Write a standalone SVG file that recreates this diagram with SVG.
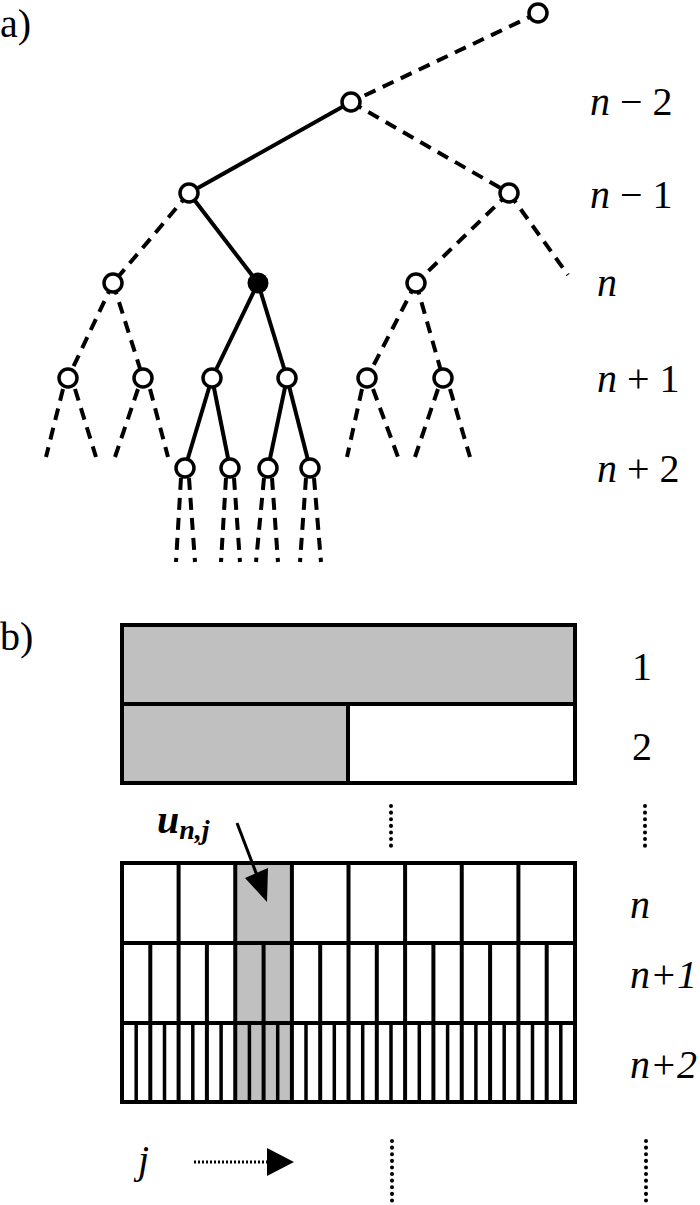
<svg xmlns="http://www.w3.org/2000/svg" width="700" height="1205" viewBox="0 0 700 1205">
<style>
.s{stroke:#000;stroke-width:4;fill:none}
.d{stroke:#000;stroke-width:4;fill:none;stroke-dasharray:12 8}
.nd{fill:#fff;stroke:#000;stroke-width:3.5}
text{font-family:"Liberation Serif","Times New Roman","DejaVu Serif",serif;font-size:40px}
.i{font-style:italic}
.g{stroke:#000;stroke-width:4}
.dot{stroke:#000;stroke-width:4;stroke-dasharray:0.1 6.5;stroke-linecap:round}
</style>
<rect width="700" height="1205" fill="#fff"/>
<text x="0" y="37" font-size="42">a)</text>
<text x="0" y="650" font-size="42">b)</text>
<g id="connectors">
<line class="d" x1="538" y1="13" x2="351" y2="102"/>
<line class="s" x1="351" y1="102" x2="189" y2="193"/>
<line class="d" x1="351" y1="102" x2="509" y2="193"/>
<line class="d" x1="189" y1="193" x2="113" y2="283"/>
<line class="s" x1="189" y1="193" x2="258" y2="283"/>
<line class="d" x1="509" y1="193" x2="416" y2="283"/>
<line class="d" x1="509" y1="193" x2="568" y2="275"/>
<line class="d" x1="113" y1="283" x2="68" y2="378"/>
<line class="d" x1="113" y1="283" x2="143" y2="378"/>
<line class="s" x1="258" y1="283" x2="212" y2="378"/>
<line class="s" x1="258" y1="283" x2="287" y2="378"/>
<line class="d" x1="416" y1="283" x2="367" y2="378"/>
<line class="d" x1="416" y1="283" x2="443" y2="378"/>
<line class="s" x1="212" y1="378" x2="185" y2="468"/>
<line class="s" x1="212" y1="378" x2="230" y2="468"/>
<line class="s" x1="287" y1="378" x2="268" y2="468"/>
<line class="s" x1="287" y1="378" x2="310" y2="468"/>
<line class="d" x1="63" y1="389" x2="46" y2="457"/>
<line class="d" x1="75" y1="389" x2="96" y2="457"/>
<line class="d" x1="138" y1="389" x2="115" y2="457"/>
<line class="d" x1="150" y1="389" x2="168" y2="457"/>
<line class="d" x1="362" y1="389" x2="347" y2="457"/>
<line class="d" x1="373" y1="389" x2="398" y2="457"/>
<line class="d" x1="438" y1="389" x2="415" y2="457"/>
<line class="d" x1="450" y1="389" x2="470" y2="457"/>
<line class="d" x1="181" y1="478" x2="176" y2="562"/>
<line class="d" x1="189" y1="478" x2="195" y2="562"/>
<line class="d" x1="226" y1="478" x2="221" y2="562"/>
<line class="d" x1="234" y1="478" x2="240" y2="562"/>
<line class="d" x1="264" y1="478" x2="256" y2="562"/>
<line class="d" x1="272" y1="478" x2="278" y2="562"/>
<line class="d" x1="306" y1="478" x2="300" y2="562"/>
<line class="d" x1="314" y1="478" x2="321" y2="562"/>
</g>
<g id="nodes">
<circle id="n0" class="nd" cx="538" cy="13" r="9"/>
<circle id="n1" class="nd" cx="351" cy="102" r="9"/>
<circle id="n2" class="nd" cx="189" cy="193" r="9"/>
<circle id="n3" class="nd" cx="509" cy="193" r="9"/>
<circle id="n4" class="nd" cx="113" cy="283" r="9"/>
<circle id="n5" cx="258" cy="283" r="10.5" fill="#000"/>
<circle id="n6" class="nd" cx="416" cy="283" r="9"/>
<circle id="n7" class="nd" cx="68" cy="378" r="9"/>
<circle id="n8" class="nd" cx="143" cy="378" r="9"/>
<circle id="n9" class="nd" cx="212" cy="378" r="9"/>
<circle id="n10" class="nd" cx="287" cy="378" r="9"/>
<circle id="n11" class="nd" cx="367" cy="378" r="9"/>
<circle id="n12" class="nd" cx="443" cy="378" r="9"/>
<circle id="n13" class="nd" cx="185" cy="468" r="9"/>
<circle id="n14" class="nd" cx="230" cy="468" r="9"/>
<circle id="n15" class="nd" cx="268" cy="468" r="9"/>
<circle id="n16" class="nd" cx="310" cy="468" r="9"/>
</g>
<g id="levels-a">
<text x="590" y="115"><tspan class="i">n</tspan> − 2</text>
<text x="590" y="208"><tspan class="i">n</tspan> − 1</text>
<text x="597" y="296" class="i">n</text>
<text x="597" y="392"><tspan class="i">n</tspan> + 1</text>
<text x="597" y="482"><tspan class="i">n</tspan> + 2</text>
</g>
<g id="rows-top">
<rect x="122" y="625" width="453" height="79" fill="#c0c0c0"/>
<rect x="122" y="704" width="226" height="79" fill="#c0c0c0"/>
<rect x="122" y="625" width="453" height="158" fill="none" class="g"/>
<line class="g" x1="122" y1="704" x2="575" y2="704"/>
<line class="g" x1="348" y1="704" x2="348" y2="783"/>
</g>
<g id="grid">
<rect x="235.25" y="863" width="56.6" height="239" fill="#c0c0c0"/>
<g class="g">
<line x1="122" y1="943" x2="575" y2="943"/>
<line x1="122" y1="1023" x2="575" y2="1023"/>
<line x1="178.6" y1="863" x2="178.6" y2="1102"/><line x1="235.25" y1="863" x2="235.25" y2="1102"/><line x1="291.9" y1="863" x2="291.9" y2="1102"/><line x1="348.5" y1="863" x2="348.5" y2="1102"/><line x1="405.1" y1="863" x2="405.1" y2="1102"/><line x1="461.75" y1="863" x2="461.75" y2="1102"/><line x1="518.4" y1="863" x2="518.4" y2="1102"/>
<line x1="150.3" y1="943" x2="150.3" y2="1102"/><line x1="206.9" y1="943" x2="206.9" y2="1102"/><line x1="263.6" y1="943" x2="263.6" y2="1102"/><line x1="320.2" y1="943" x2="320.2" y2="1102"/><line x1="376.8" y1="943" x2="376.8" y2="1102"/><line x1="433.4" y1="943" x2="433.4" y2="1102"/><line x1="490.1" y1="943" x2="490.1" y2="1102"/><line x1="546.7" y1="943" x2="546.7" y2="1102"/>
</g>
<g stroke="#000" stroke-width="3.5">
<line x1="136.2" y1="1023" x2="136.2" y2="1102"/><line x1="164.5" y1="1023" x2="164.5" y2="1102"/><line x1="192.8" y1="1023" x2="192.8" y2="1102"/><line x1="221.1" y1="1023" x2="221.1" y2="1102"/><line x1="249.4" y1="1023" x2="249.4" y2="1102"/><line x1="277.7" y1="1023" x2="277.7" y2="1102"/><line x1="306.0" y1="1023" x2="306.0" y2="1102"/><line x1="334.3" y1="1023" x2="334.3" y2="1102"/><line x1="362.7" y1="1023" x2="362.7" y2="1102"/><line x1="391.0" y1="1023" x2="391.0" y2="1102"/><line x1="419.3" y1="1023" x2="419.3" y2="1102"/><line x1="447.6" y1="1023" x2="447.6" y2="1102"/><line x1="475.9" y1="1023" x2="475.9" y2="1102"/><line x1="504.2" y1="1023" x2="504.2" y2="1102"/><line x1="532.5" y1="1023" x2="532.5" y2="1102"/><line x1="560.8" y1="1023" x2="560.8" y2="1102"/>
</g>
<rect x="122" y="863" width="453" height="239" fill="none" class="g"/>
</g>
<g id="labels-b">
<text x="632" y="680">1</text>
<text x="632" y="760">2</text>
<text x="630" y="918" class="i">n</text>
<text x="630" y="988" class="i">n+1</text>
<text x="630" y="1078" class="i">n+2</text>
<text x="157" y="833" class="i" font-size="44" font-weight="bold">u<tspan font-size="28" dy="6">n,j</tspan></text>
<text x="138" y="1173" class="i" font-size="44">j</text>
</g>
<g id="dots">
<line class="dot" x1="391" y1="806" x2="391" y2="848"/>
<line class="dot" x1="645" y1="806" x2="645" y2="848"/>
<line class="dot" x1="392" y1="1141" x2="392" y2="1205"/>
<line class="dot" x1="646" y1="1141" x2="646" y2="1205"/>
</g>
<g id="arrows">
<line x1="237" y1="823" x2="258" y2="878" stroke="#000" stroke-width="3"/>
<path d="M267,902L245,878L268,868z"/>
<line x1="194" y1="1162" x2="268" y2="1162" stroke="#000" stroke-width="3" stroke-dasharray="2 2"/>
<path d="M267,1148L294,1162L267,1176z"/>
</g>
</svg>
